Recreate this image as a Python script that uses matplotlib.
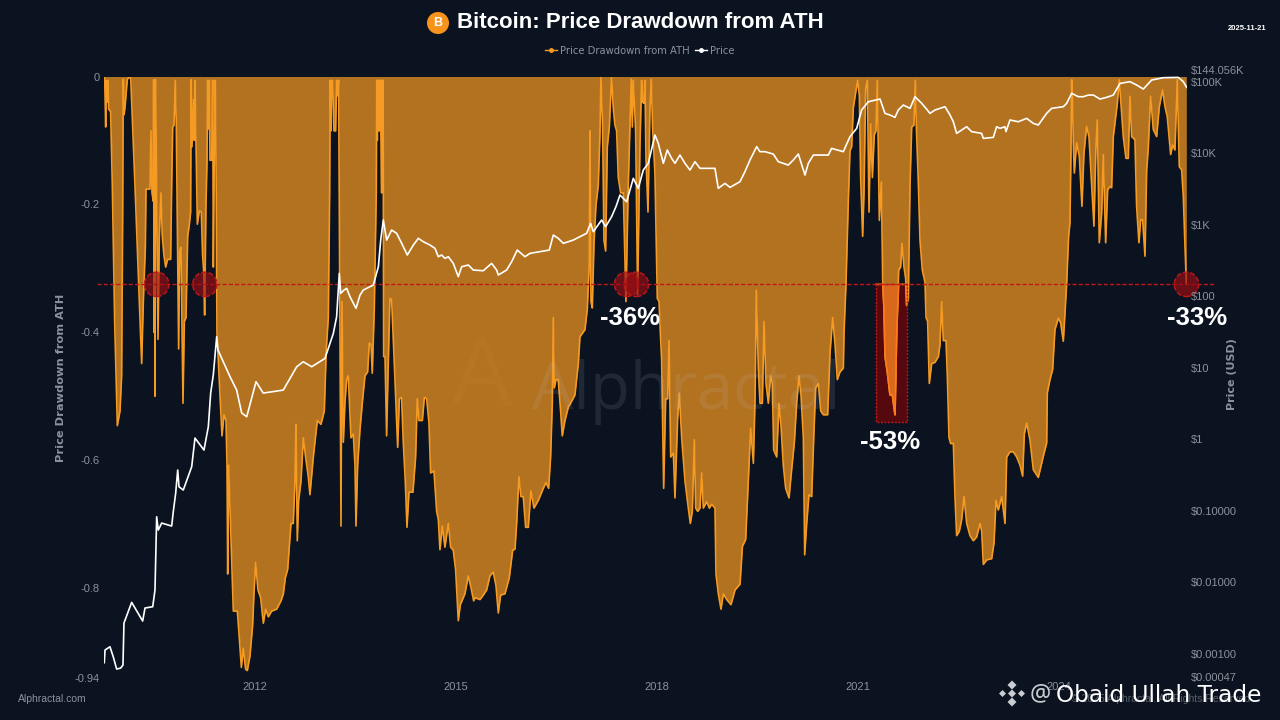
import numpy as np
import matplotlib
matplotlib.use('Agg')
import matplotlib.pyplot as plt
from matplotlib.lines import Line2D
from matplotlib.patches import Circle, Polygon

# (decimal year, drawdown from ATH), one list per stretch
drawdown_2009_2011 = [
    (2009.764, 0), (2009.779, -.079), (2009.789, -.006), (2009.803, -.040), (2009.813, -.006), (2009.823, -.051), (2009.853, -.055), (2009.878, -.170),
    (2009.913, -.383), (2009.953, -.546), (2009.993, -.523), (2010.017, -.468), (2010.032, -.231), (2010.042, -.004), (2010.052, -.060),
    (2010.067, -.049), (2010.102, -.004), (2010.152, 0), (2010.216, -.170), (2010.281, -.352), (2010.316, -.449),
    (2010.341, -.352), (2010.371, -.267), (2010.381, -.176), (2010.440, -.176), (2010.455, -.085), (2010.470, -.182),
    (2010.490, -.195), (2010.495, -.005), (2010.500, -.400), (2010.505, -.005), (2010.515, -.500), (2010.525, -.005),
    (2010.560, -.411), (2010.580, -.250), (2010.604, -.182), (2010.624, -.250), (2010.649, -.280), (2010.674, -.298),
    (2010.704, -.286), (2010.749, -.286), (2010.764, -.170), (2010.779, -.079), (2010.799, -.076), (2010.818, -.006),
    (2010.833, -.074), (2010.848, -.231), (2010.858, -.352), (2010.868, -.426), (2010.883, -.273), (2010.903, -.267),
    (2010.918, -.383), (2010.933, -.511), (2010.953, -.383), (2010.978, -.377), (2011.003, -.250), (2011.028, -.231),
    (2011.047, -.212), (2011.055, -.005), (2011.067, -.110), (2011.092, -.036), (2011.102, -.100), (2011.112, -.006),
    (2011.147, -.231), (2011.177, -.210), (2011.206, -.212), (2011.226, -.280), (2011.241, -.303), (2011.256, -.373),
    (2011.276, -.201), (2011.291, -.134), (2011.301, -.006), (2011.311, -.082), (2011.326, -.006), (2011.336, -.131),
    (2011.361, -.131), (2011.376, -.006), (2011.386, -.298), (2011.401, -.112), (2011.415, -.006), (2011.425, -.110),
    (2011.440, -.401), (2011.465, -.456), (2011.485, -.498), (2011.515, -.562), (2011.545, -.529), (2011.575, -.538),
    (2011.590, -.608), (2011.600, -.778), (2011.614, -.608), (2011.644, -.705), (2011.684, -.836), (2011.744, -.836),
    (2011.764, -.864), (2011.804, -.924), (2011.833, -.894), (2011.868, -.927), (2011.893, -.929), (2011.933, -.906),
    (2011.973, -.857), (2011.992, -.809),
]
drawdown_2012_2014 = [
    (2012.017, -.760), (2012.052, -.803), (2012.092, -.815), (2012.132, -.855), (2012.167, -.833), (2012.207, -.845),
    (2012.257, -.836), (2012.331, -.833), (2012.396, -.820), (2012.431, -.809), (2012.460, -.784), (2012.495, -.771),
    (2012.545, -.699), (2012.579, -.699), (2012.604, -.633), (2012.619, -.544), (2012.639, -.726), (2012.659, -.663),
    (2012.694, -.633), (2012.729, -.565), (2012.763, -.595), (2012.803, -.626), (2012.828, -.654), (2012.878, -.595),
    (2012.938, -.538), (2012.992, -.544), (2013.042, -.523), (2013.072, -.426), (2013.102, -.377), (2013.122, -.182),
    (2013.130, -.006), (2013.142, -.085), (2013.150, -.006), (2013.166, -.007), (2013.186, -.085), (2013.211, -.085),
    (2013.226, -.006), (2013.241, -.030), (2013.256, -.006), (2013.271, -.303), (2013.291, -.703), (2013.306, -.352),
    (2013.326, -.572), (2013.350, -.511), (2013.375, -.474), (2013.400, -.468), (2013.420, -.517), (2013.440, -.565),
    (2013.475, -.559), (2013.500, -.608), (2013.515, -.703), (2013.540, -.608), (2013.574, -.553), (2013.609, -.511),
    (2013.649, -.468), (2013.689, -.462), (2013.714, -.417), (2013.739, -.419), (2013.758, -.464), (2013.788, -.364),
    (2013.818, -.182), (2013.825, -.006), (2013.833, -.100), (2013.840, -.006), (2013.848, -.085), (2013.858, -.006),
    (2013.868, -.085), (2013.875, -.006), (2013.883, -.060), (2013.898, -.182), (2013.905, -.006), (2013.913, -.120), (2013.920, -.006),
    (2013.928, -.438), (2013.948, -.438), (2013.972, -.562), (2013.997, -.449), (2014.022, -.347), (2014.047, -.349),
    (2014.087, -.449), (2014.137, -.580), (2014.162, -.504), (2014.196, -.502), (2014.221, -.572), (2014.251, -.633),
    (2014.276, -.705), (2014.306, -.650), (2014.365, -.650), (2014.405, -.595), (2014.430, -.504), (2014.455, -.538),
    (2014.505, -.538), (2014.535, -.502), (2014.570, -.504), (2014.604, -.541), (2014.629, -.620), (2014.679, -.617),
    (2014.719, -.680), (2014.744, -.693), (2014.768, -.740), (2014.803, -.703), (2014.843, -.736), (2014.893, -.699),
    (2014.928, -.736), (2014.967, -.741),
]
drawdown_2015_2017 = [
    (2015.002, -.771), (2015.042, -.851), (2015.072, -.826), (2015.141, -.809), (2015.191, -.781), (2015.231, -.799),
    (2015.271, -.820), (2015.291, -.815), (2015.365, -.818), (2015.415, -.811), (2015.465, -.803), (2015.514, -.781),
    (2015.564, -.775), (2015.604, -.796), (2015.639, -.839), (2015.674, -.811), (2015.738, -.809), (2015.803, -.784),
    (2015.853, -.741), (2015.888, -.739), (2015.913, -.699), (2015.947, -.626), (2015.977, -.657), (2016.012, -.657),
    (2016.047, -.705), (2016.087, -.705), (2016.126, -.648), (2016.171, -.675), (2016.236, -.663), (2016.311, -.644),
    (2016.350, -.635), (2016.390, -.644), (2016.420, -.595), (2016.445, -.511), (2016.460, -.377), (2016.475, -.487),
    (2016.500, -.474), (2016.534, -.474), (2016.569, -.523), (2016.594, -.562), (2016.634, -.538), (2016.684, -.517),
    (2016.718, -.511), (2016.783, -.498), (2016.833, -.449), (2016.858, -.407), (2016.932, -.396), (2016.967, -.364),
    (2016.997, -.292), (2017.007, -.085), (2017.022, -.352), (2017.042, -.362), (2017.067, -.261), (2017.097, -.201),
    (2017.131, -.170), (2017.156, -.091), (2017.171, 0), (2017.196, -.079), (2017.216, -.256), (2017.241, -.273),
    (2017.266, -.110), (2017.296, -.079), (2017.330, 0), (2017.355, -.049), (2017.380, -.076), (2017.405, -.085),
    (2017.430, -.158), (2017.465, -.182), (2017.505, -.182), (2017.544, -.352), (2017.579, -.170), (2017.604, -.079),
    (2017.624, -.004), (2017.639, -.079), (2017.654, -.006), (2017.689, -.085), (2017.718, -.341), (2017.753, -.110),
    (2017.778, -.006), (2017.793, -.040), (2017.813, -.042), (2017.828, -.006), (2017.843, -.127), (2017.873, -.212),
    (2017.903, -.049), (2017.922, -.004), (2017.942, -.079), (2017.977, -.152),
]
drawdown_2018_2020 = [
    (2018.012, -.347), (2018.038, -.352), (2018.058, -.401), (2018.077, -.443), (2018.107, -.644), (2018.137, -.504),
    (2018.167, -.504), (2018.187, -.413), (2018.212, -.595), (2018.252, -.589), (2018.276, -.659), (2018.316, -.534),
    (2018.341, -.495), (2018.376, -.565), (2018.426, -.633), (2018.475, -.675), (2018.505, -.699), (2018.535, -.680),
    (2018.565, -.568), (2018.585, -.675), (2018.615, -.680), (2018.650, -.675), (2018.675, -.620), (2018.699, -.675),
    (2018.749, -.665), (2018.789, -.675), (2018.824, -.669), (2018.873, -.675), (2018.888, -.778), (2018.923, -.809),
    (2018.963, -.833), (2018.998, -.809), (2019.048, -.818), (2019.112, -.826), (2019.172, -.803), (2019.247, -.794),
    (2019.282, -.735), (2019.331, -.724), (2019.371, -.633), (2019.406, -.550), (2019.446, -.605), (2019.471, -.504),
    (2019.490, -.334), (2019.520, -.456), (2019.545, -.511), (2019.580, -.511), (2019.605, -.383), (2019.635, -.480),
    (2019.669, -.511), (2019.704, -.468), (2019.729, -.480), (2019.749, -.584), (2019.794, -.595), (2019.829, -.511),
    (2019.859, -.547), (2019.893, -.608), (2019.928, -.644), (2019.978, -.659), (2020.018, -.614), (2020.058, -.572),
    (2020.092, -.511), (2020.127, -.468), (2020.157, -.498), (2020.192, -.565), (2020.212, -.748), (2020.242, -.699),
    (2020.276, -.654), (2020.316, -.657), (2020.351, -.553), (2020.376, -.487), (2020.416, -.480), (2020.451, -.523),
    (2020.490, -.529), (2020.555, -.529), (2020.590, -.432), (2020.630, -.377), (2020.665, -.419), (2020.699, -.474),
    (2020.739, -.462), (2020.789, -.456), (2020.799, -.401), (2020.829, -.322), (2020.863, -.195), (2020.888, -.116),
    (2020.913, -.110), (2020.938, -.049), (2020.973, -.025),
]
drawdown_2021_2023 = [
    (2021.003, -.006), (2021.028, -.030), (2021.047, -.158), (2021.077, -.250), (2021.097, -.182), (2021.122, -.019),
    (2021.147, -.006), (2021.172, -.212), (2021.197, -.074), (2021.222, -.158), (2021.251, -.091), (2021.276, -.085),
    (2021.296, -.006), (2021.326, -.225), (2021.356, -.165), (2021.376, -.316), (2021.396, -.364), (2021.411, -.438),
    (2021.445, -.462), (2021.485, -.498), (2021.520, -.498), (2021.560, -.529), (2021.585, -.401), (2021.615, -.303),
    (2021.644, -.298), (2021.664, -.261), (2021.694, -.298), (2021.719, -.316), (2021.734, -.358), (2021.759, -.347),
    (2021.784, -.170), (2021.809, -.079), (2021.843, -.076), (2021.863, -.006), (2021.878, -.076), (2021.908, -.165),
    (2021.933, -.256), (2021.968, -.303), (2022.008, -.322), (2022.023, -.377), (2022.047, -.383), (2022.072, -.480),
    (2022.107, -.449), (2022.157, -.447), (2022.207, -.438), (2022.232, -.419), (2022.257, -.352), (2022.281, -.413),
    (2022.321, -.413), (2022.341, -.468), (2022.366, -.565), (2022.391, -.574), (2022.431, -.574), (2022.455, -.657),
    (2022.480, -.718), (2022.520, -.711), (2022.555, -.693), (2022.590, -.657), (2022.630, -.699), (2022.679, -.718),
    (2022.729, -.726), (2022.779, -.720), (2022.829, -.699), (2022.854, -.711), (2022.878, -.763), (2022.928, -.756),
    (2023.003, -.754), (2023.038, -.729), (2023.067, -.663), (2023.102, -.678), (2023.152, -.657), (2023.202, -.699),
    (2023.227, -.595), (2023.276, -.587), (2023.326, -.587), (2023.376, -.595), (2023.426, -.608), (2023.465, -.625),
    (2023.490, -.559), (2023.525, -.542), (2023.574, -.568), (2023.624, -.615), (2023.699, -.627), (2023.773, -.594),
    (2023.824, -.573), (2023.833, -.495), (2023.873, -.474), (2023.913, -.458), (2023.947, -.396),
]
drawdown_2024_2025 = [
    (2023.997, -.378), (2024.032, -.385), (2024.072, -.414), (2024.097, -.370), (2024.122, -.323), (2024.151, -.250),
    (2024.171, -.229), (2024.186, -.120), (2024.196, -.005), (2024.211, -.042), (2024.221, -.104), (2024.236, -.151),
    (2024.271, -.104), (2024.311, -.125), (2024.350, -.203), (2024.380, -.120), (2024.420, -.078), (2024.455, -.094),
    (2024.485, -.151), (2024.529, -.234), (2024.559, -.109), (2024.579, -.068), (2024.609, -.260), (2024.644, -.214),
    (2024.669, -.122), (2024.704, -.260), (2024.734, -.177), (2024.768, -.172), (2024.793, -.174), (2024.818, -.094),
    (2024.843, -.073), (2024.878, -.042), (2024.907, -.005), (2024.932, -.042), (2024.967, -.094), (2025.007, -.128),
    (2025.042, -.128), (2025.067, -.031), (2025.092, -.094), (2025.141, -.099), (2025.166, -.203), (2025.201, -.260),
    (2025.226, -.224), (2025.256, -.224), (2025.291, -.281), (2025.316, -.146), (2025.340, -.112), (2025.375, -.031),
    (2025.415, -.083), (2025.465, -.094), (2025.505, -.047), (2025.554, -.021), (2025.589, -.047), (2025.624, -.063),
    (2025.674, -.122), (2025.704, -.107), (2025.738, -.115), (2025.773, -.005), (2025.803, -.141), (2025.838, -.146),
    (2025.863, -.188), (2025.888, -.266), (2025.908, -.323),
]

# (decimal year, log10 of price in USD)
price_2009_2013 = [
    (2009.758, -3.128), (2009.769, -2.951), (2009.843, -2.905), (2009.892, -3.045), (2009.943, -3.217), (2010.003, -3.203),
    (2010.037, -3.161), (2010.052, -2.573), (2010.167, -2.284), (2010.331, -2.545), (2010.366, -2.363), (2010.481, -2.345),
    (2010.515, -2.112), (2010.540, -1.087), (2010.564, -1.273), (2010.615, -1.175), (2010.764, -1.217), (2010.788, -1.017),
    (2010.824, -.755), (2010.854, -.433), (2010.873, -.667), (2010.937, -.713), (2011.063, -.387), (2011.112, .014),
    (2011.246, -.154), (2011.311, .172), (2011.346, .643), (2011.385, .895), (2011.436, 1.431), (2011.455, 1.245),
    (2011.635, .871), (2011.734, .685), (2011.809, .364), (2011.884, .312), (2012.023, .802), (2012.131, .643),
    (2012.430, .685), (2012.630, 1.011), (2012.728, 1.081), (2012.854, 1.011), (2013.052, 1.128), (2013.177, 1.478),
    (2013.226, 1.711), (2013.266, 2.317), (2013.286, 2.037), (2013.336, 2.084), (2013.376, 2.107), (2013.425, 1.991),
    (2013.515, 1.828), (2013.575, 2.014), (2013.624, 2.084), (2013.724, 2.131), (2013.774, 2.154), (2013.849, 2.410),
    (2013.884, 2.783), (2013.923, 3.063), (2013.973, 2.783),
]
price_2014_2016 = [
    (2014.047, 2.923), (2014.122, 2.877), (2014.197, 2.737), (2014.281, 2.574), (2014.371, 2.713), (2014.445, 2.807),
    (2014.520, 2.760), (2014.620, 2.713), (2014.694, 2.667), (2014.743, 2.550), (2014.793, 2.574), (2014.843, 2.527),
    (2014.893, 2.550), (2014.967, 2.457), (2015.042, 2.271), (2015.092, 2.410), (2015.191, 2.434), (2015.266, 2.364),
    (2015.415, 2.354), (2015.539, 2.457), (2015.614, 2.364), (2015.639, 2.294), (2015.763, 2.364), (2015.838, 2.480),
    (2015.922, 2.643), (2016.037, 2.550), (2016.112, 2.597), (2016.261, 2.620), (2016.400, 2.643), (2016.460, 2.853),
    (2016.534, 2.807), (2016.609, 2.737), (2016.758, 2.783), (2016.957, 2.877),
]
price_2017_2020 = [
    (2017.017, 3.016), (2017.057, 2.900), (2017.181, 3.063), (2017.241, 2.970), (2017.330, 3.110), (2017.395, 3.250),
    (2017.455, 3.413), (2017.554, 3.319), (2017.654, 3.646), (2017.728, 3.506), (2017.803, 3.762), (2017.878, 3.856),
    (2017.977, 4.252), (2018.027, 4.135), (2018.102, 3.856), (2018.161, 4.042), (2018.226, 3.926), (2018.276, 3.856),
    (2018.350, 3.972), (2018.425, 3.856), (2018.500, 3.762), (2018.574, 3.879), (2018.649, 3.786), (2018.873, 3.786),
    (2018.922, 3.506), (2019.022, 3.576), (2019.097, 3.520), (2019.246, 3.599), (2019.320, 3.739), (2019.395, 3.902),
    (2019.495, 4.089), (2019.544, 4.019), (2019.619, 4.019), (2019.743, 3.986), (2019.818, 3.879), (2019.967, 3.832),
    (2020.042, 3.902), (2020.117, 3.986), (2020.216, 3.692), (2020.266, 3.856), (2020.341, 3.972), (2020.564, 3.972),
    (2020.614, 4.065), (2020.788, 4.019),
]
price_2021_2025 = [
    (2020.888, 4.229), (2020.988, 4.345), (2021.062, 4.602), (2021.162, 4.718), (2021.336, 4.755), (2021.410, 4.555),
    (2021.485, 4.532), (2021.560, 4.499), (2021.609, 4.602), (2021.684, 4.671), (2021.784, 4.625), (2021.858, 4.788),
    (2021.958, 4.695), (2022.022, 4.625), (2022.082, 4.555), (2022.157, 4.602), (2022.231, 4.625), (2022.306, 4.648),
    (2022.381, 4.532), (2022.430, 4.438), (2022.480, 4.275), (2022.555, 4.322), (2022.629, 4.368), (2022.704, 4.299),
    (2022.853, 4.275), (2022.878, 4.205), (2023.027, 4.219), (2023.077, 4.368), (2023.127, 4.345), (2023.201, 4.368),
    (2023.216, 4.299), (2023.276, 4.462), (2023.400, 4.438), (2023.525, 4.485), (2023.624, 4.415), (2023.699, 4.392),
    (2023.823, 4.555), (2023.898, 4.625), (2024.072, 4.648), (2024.122, 4.695), (2024.197, 4.835), (2024.296, 4.788),
    (2024.371, 4.788), (2024.445, 4.811), (2024.520, 4.811), (2024.619, 4.755), (2024.719, 4.779), (2024.818, 4.811),
    (2024.918, 4.974), (2025.067, 4.998), (2025.167, 4.951), (2025.266, 4.895), (2025.390, 5.021), (2025.564, 5.054),
    (2025.788, 5.058), (2025.863, 4.998), (2025.913, 4.919),
]

year_ticks = [2012, 2015, 2018, 2021, 2024]
drawdown_ticks = [0, -0.2, -0.4, -0.6, -0.8, -0.94]
drawdown_tick_labels = ['0', '-0.2', '-0.4', '-0.6', '-0.8', '-0.94']
price_ticks = [0.00047, 0.001, 0.01, 0.1, 1, 10, 100, 1000, 10000, 100000, 144056]
price_tick_labels = ['$0.00047', '$0.00100', '$0.01000', '$0.10000', '$1', '$10', '$100', '$1K', '$10K', '$100K', '$144.056K']

threshold = -0.325
marked_years = [2010.54, 2011.26, 2017.555, 2017.70, 2025.91]
box_years = [2021.27, 2021.74]
box_bottom = -0.541

BG = '#0b1320'
GREY = '#8b929c'
ORANGE = '#f59a23'
FILL = '#b3721f'
RED = '#c01818'

plt.rcParams['font.family'] = ['Liberation Sans', 'DejaVu Sans']

dd_pts = np.array(drawdown_2009_2011 + drawdown_2012_2014 + drawdown_2015_2017
                  + drawdown_2018_2020 + drawdown_2021_2023 + drawdown_2024_2025)
price_pts = np.array(price_2009_2013 + price_2014_2016 + price_2017_2020 + price_2021_2025)

fig = plt.figure(figsize=(12.8, 7.2), dpi=100, facecolor=BG)


def pos(left, top, right, bottom):
    return [left / 1280, 1 - bottom / 720, (right - left) / 1280, (bottom - top) / 720]


xlim = (2009.754, 2025.918)

ax = fig.add_axes(pos(104, 76.5, 1187, 677.6), facecolor=BG)
ax.set_xlim(xlim)
ax.set_ylim(-0.94, 0)
ax.fill_between(dd_pts[:, 0], dd_pts[:, 1], 0, color=FILL, lw=0, zorder=1)
ax.plot(dd_pts[:, 0], dd_pts[:, 1], color=ORANGE, lw=1.2, zorder=2)

for s in ax.spines.values():
    s.set_visible(False)
ax.set_xticks(year_ticks)
ax.set_xticklabels([str(y) for y in year_ticks])
ax.set_yticks(drawdown_ticks)
ax.set_yticklabels(drawdown_tick_labels)
ax.tick_params(length=0, colors=GREY, labelsize=8, pad=3)
ax.set_ylabel('Price Drawdown from ATH', color=GREY, fontsize=8.2, fontweight='bold',
              family=['DejaVu Sans'], labelpad=0)
ax.yaxis.set_label_coords(-0.0355, 0.498)

# threshold line, the circles and the highlighted dip
ax.plot([2009.645, 2026.34], [threshold, threshold], color=RED, lw=1, ls=(0, (3, 1.5)), clip_on=False, zorder=5)
ax.scatter(marked_years, [threshold] * len(marked_years), s=310, facecolor=(0.62, 0.05, 0.08, 0.65),
           edgecolor=RED, linewidth=1, linestyle='--', zorder=6, clip_on=False)
# dark red box behind the series, then the part of the series inside it in a hotter orange
ax.fill_between(box_years, box_bottom, threshold, color='#55090f', lw=0, zorder=0.5)
in_box = (dd_pts[:, 0] >= box_years[0]) & (dd_pts[:, 0] <= box_years[1])
box_x = dd_pts[in_box, 0]
box_y = np.minimum(dd_pts[in_box, 1], threshold)
ax.fill_between(box_x, box_y, threshold, color='#d8681c', lw=0, zorder=3)
ax.plot(box_x, box_y, color='#ff7a1a', lw=1.2, zorder=3.5)
ax.plot([box_years[0], box_years[0], box_years[1], box_years[1], box_years[0]],
        [threshold, box_bottom, box_bottom, threshold, threshold],
        color=RED, lw=1, ls=(0, (1.5, 1)), zorder=4)

# price sits on its own log axis, which starts a few pixels above the drawdown axis
ax2 = fig.add_axes(pos(104, 70.2, 1187, 677), facecolor='none')
ax2.set_xlim(xlim)
ax2.set_yscale('log')
ax2.set_ylim(0.00047, 144056)
ax2.plot(price_pts[:, 0], 10.0 ** price_pts[:, 1], color='white', lw=1.2, zorder=7)
for s in ax2.spines.values():
    s.set_visible(False)
ax2.set_xticks([])
ax2.yaxis.tick_right()
ax2.set_yticks(price_ticks)
ax2.set_yticklabels(price_tick_labels)
ax2.minorticks_off()
ax2.tick_params(length=0, colors=GREY, labelsize=8, pad=2.5)
ax2.set_ylabel('Price (USD)', color=GREY, fontsize=8, fontweight='bold', family=['DejaVu Sans'], rotation=90)
ax2.yaxis.set_label_position('right')
ax2.yaxis.set_label_coords(1.037, 0.4985)

# overlay in pixel coordinates for everything that is not tied to the data
over = fig.add_axes([0, 0, 1, 1], facecolor='none', zorder=10)
over.set_xlim(0, 1280)
over.set_ylim(720, 0)
over.axis('off')

over.text(640, 23, 'Bitcoin: Price Drawdown from ATH', color='white', fontsize=16, fontweight='bold',
          ha='center', va='center')
over.add_patch(Circle((438, 23), 11, color='#f7931a', lw=0))
over.text(438, 23, 'B', color='white', fontsize=9, fontweight='bold', ha='center', va='center')
over.text(1247, 28, '2025-11-21', color='white', fontsize=5.5, fontweight='bold', ha='center', va='center')

leg = fig.legend(handles=[
    Line2D([], [], color=ORANGE, lw=1, marker='o', ms=2.5, label='Price Drawdown from ATH'),
    Line2D([], [], color='white', lw=1, marker='o', ms=2.5, label='Price')],
    loc='center', bbox_to_anchor=(640 / 1280, 1 - 50.5 / 720), ncol=2, frameon=False,
    labelcolor=GREY, handlelength=1.2, handletextpad=0.3, columnspacing=0.5, prop={'family': 'DejaVu Sans', 'size': 7.2})

for x, y, s in [(630, 318, '-36%'), (890, 442, '-53%'), (1197, 318, '-33%')]:
    over.text(x, y, s, color='white', fontsize=18.5, fontweight='bold', ha='center', va='center')

# watermarks and footer
over.text(686, 392, 'Alphractal', color='#b9c4d4', alpha=0.12, fontsize=47, family='Open Sans', ha='center', va='center')
over.text(482, 380, 'A', color='#e0b070', alpha=0.05, fontsize=70, family='Open Sans', ha='center', va='center')
over.text(18, 698.5, 'Alphractal.com', color=GREY, fontsize=7.5, va='center')
over.text(1250, 698.5, '© 2025 Alphractal. All Rights Reserved', color=GREY, alpha=0.6, fontsize=7.5, ha='right', va='center')

for cx, cy, r in [(1012, 685, 4.5), (1002.5, 693.5, 3.5), (1021.5, 693.5, 3.5), (1012, 702, 4.5), (1012, 693.5, 4)]:
    over.add_patch(Polygon([(cx - r, cy), (cx, cy - r), (cx + r, cy), (cx, cy + r)], color='#c9ccd1', lw=0))
over.text(1040, 694, '@', color='#c9ccd1', fontsize=17, family='Noto Sans', ha='center', va='center')
over.text(1056, 695, 'Obaid Ullah Trade', color='white', fontsize=16.7, family='DejaVu Sans', ha='left', va='center')

fig.savefig('out.png', dpi=100, facecolor=BG)
